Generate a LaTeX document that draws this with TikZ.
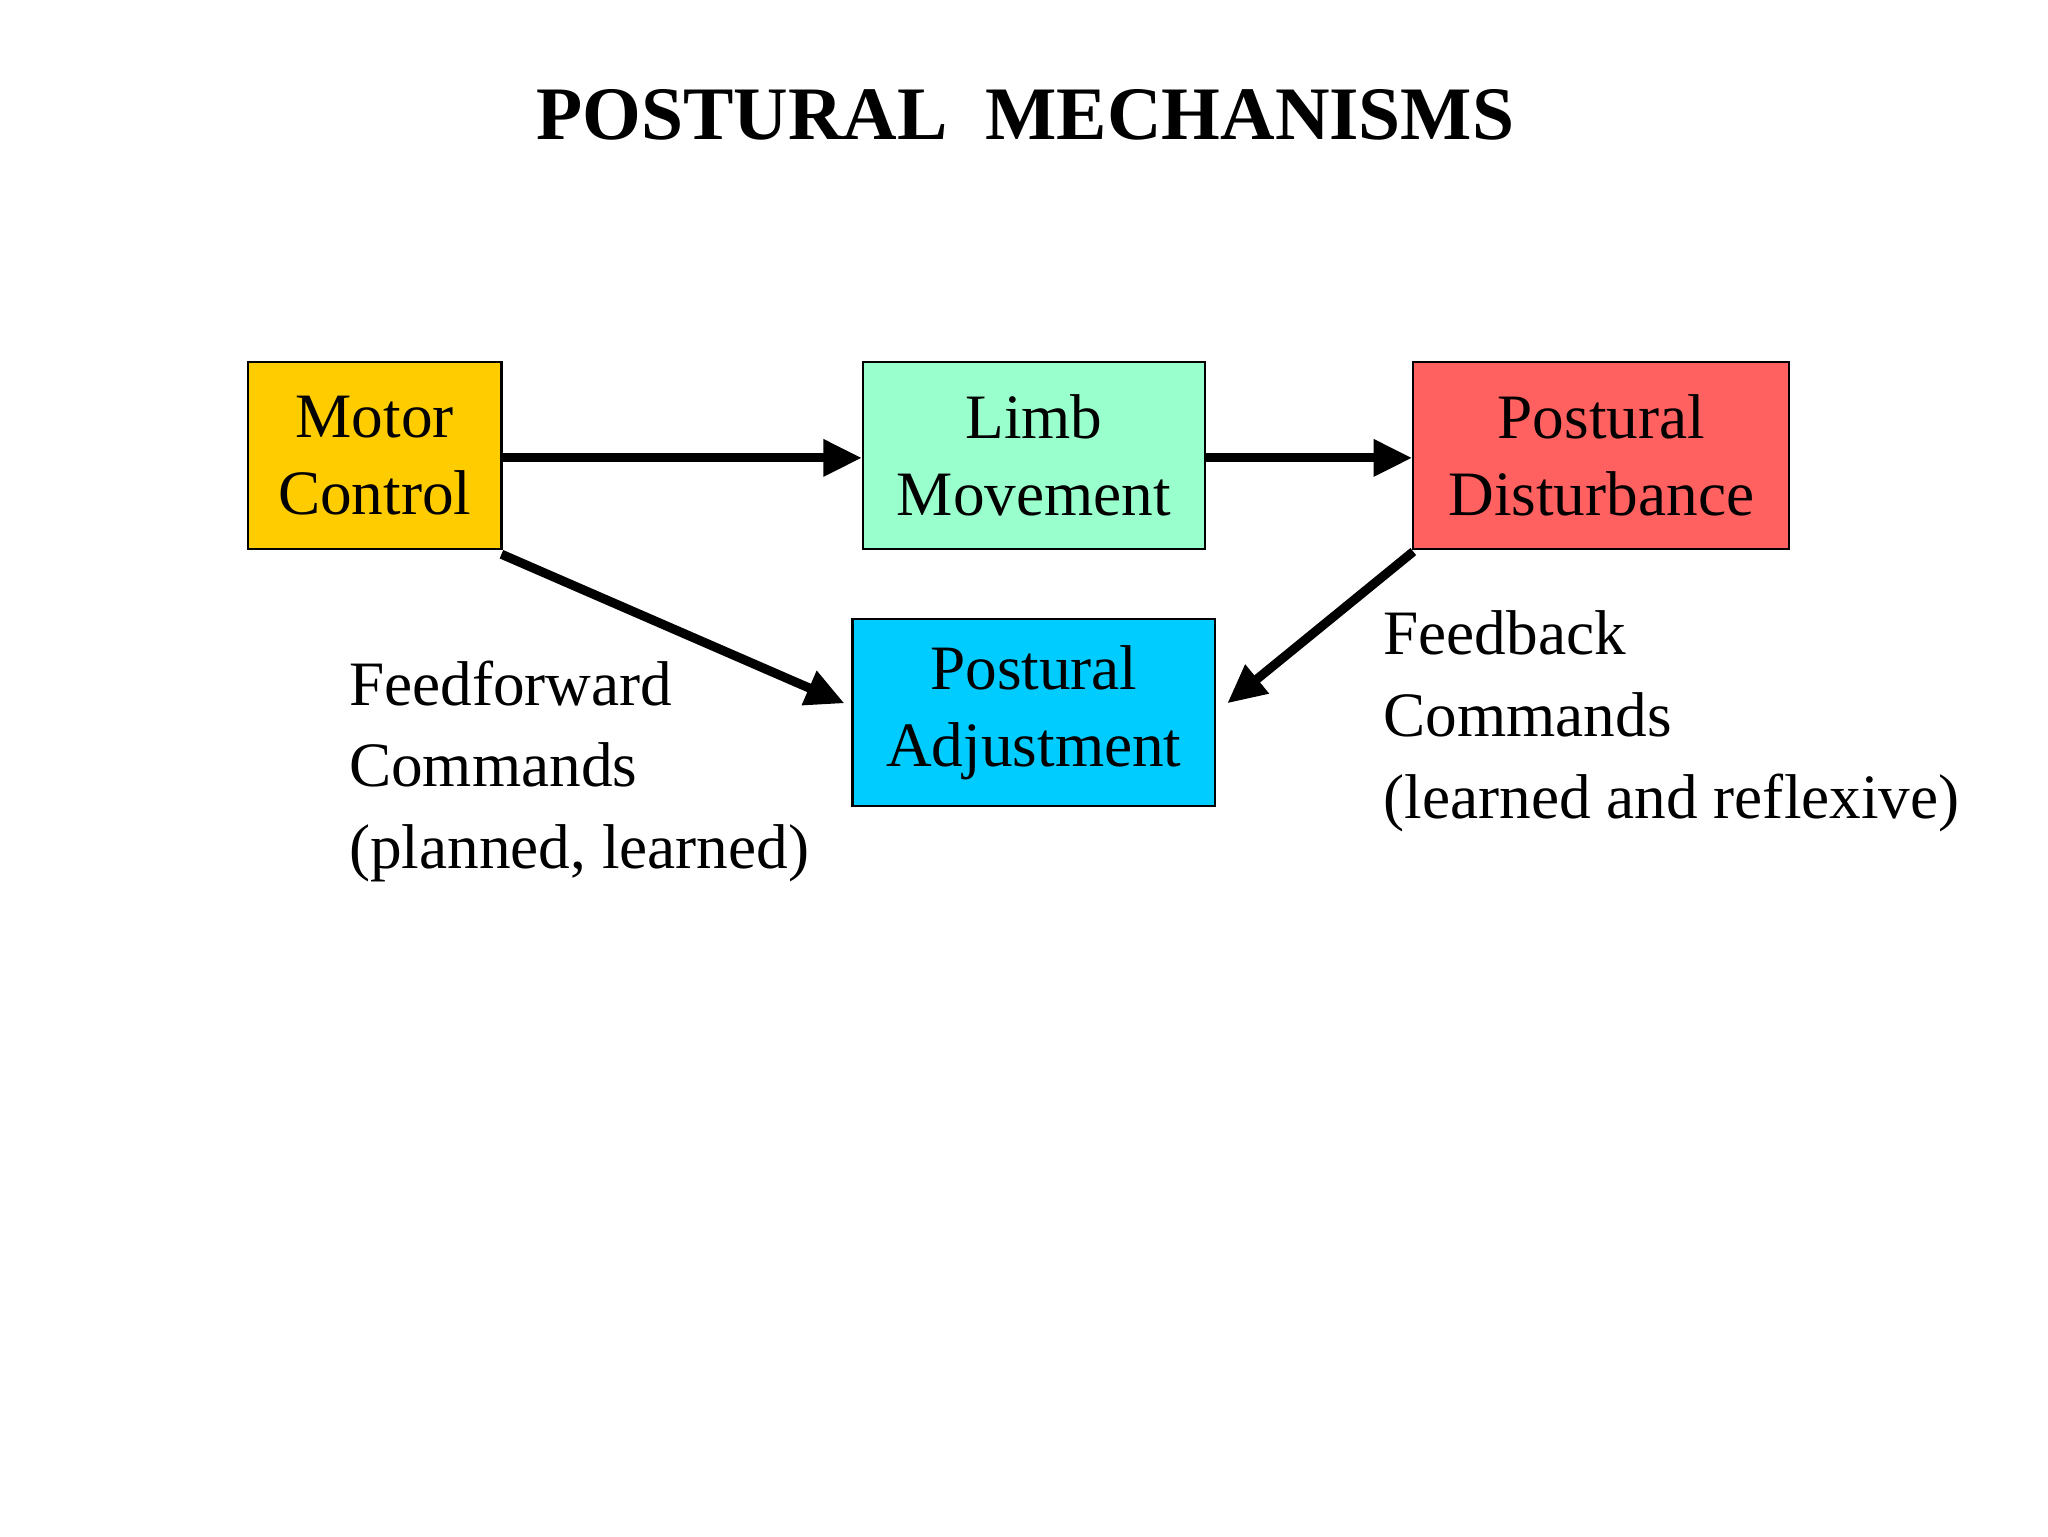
\documentclass[tikz,border=0pt]{standalone}
\usepackage{fontspec}
\setmainfont{Liberation Serif}
\usetikzlibrary{arrows.meta}
\begin{document}
\begin{tikzpicture}[x=0.0132cm,y=-0.0132cm,
  box/.style={draw=black,line width=0.6pt,align=center,inner sep=0pt,font=\fontsize{18}{22}\selectfont},
  arr/.style={line width=2.6pt,-{Triangle[length=11pt,width=10pt]}},
  lab/.style={align=left,anchor=north west,inner sep=0pt,font=\fontsize{18}{23.3}\selectfont}]
\useasboundingbox[fill=white] (0,0) rectangle (1552,1164);
\node[font=\bfseries\fontsize{21.5}{26}\selectfont] (title) at (777,87) {POSTURAL\ \ MECHANISMS};
\node[box,fill={rgb,255:red,255;green,204;blue,0},minimum width=192\pgflinewidth,text width=180*0.0132cm,minimum width=192*0.0132cm,minimum height=142*0.0132cm] (mc) at (284,345) {Motor\\Control};
\node[box,fill={rgb,255:red,153;green,255;blue,204},minimum width=259*0.0132cm,minimum height=142*0.0132cm] (lm) at (783.5,345) {Limb\\Movement};
\node[box,fill={rgb,255:red,255;green,96;blue,96},minimum width=285*0.0132cm,minimum height=142*0.0132cm] (pd) at (1213.5,345) {Postural\\Disturbance};
\node[box,fill={rgb,255:red,0;green,204;blue,255},minimum width=275*0.0132cm,minimum height=142*0.0132cm] (pa) at (783.5,540) {Postural\\Adjustment};
\coordinate (a3s) at (380,420);
\coordinate (a3e) at (640,533);
\coordinate (a4s) at (1071,418);
\coordinate (a4e) at (930,533);
\draw[arr] (mc.east |- 0,347) -- (lm.west |- 0,347);
\draw[arr] (lm.east |- 0,347) -- (pd.west |- 0,347);
\draw[arr] (a3s) -- (a3e);
\draw[arr] (a4s) -- (a4e);
\node[lab] (ff) at (264,500) {Feedforward\\Commands\\(planned, learned)};
\node[lab] (fb) at (1048,462) {Feedback\\Commands\\(learned and reflexive)};
\end{tikzpicture}
\end{document}
